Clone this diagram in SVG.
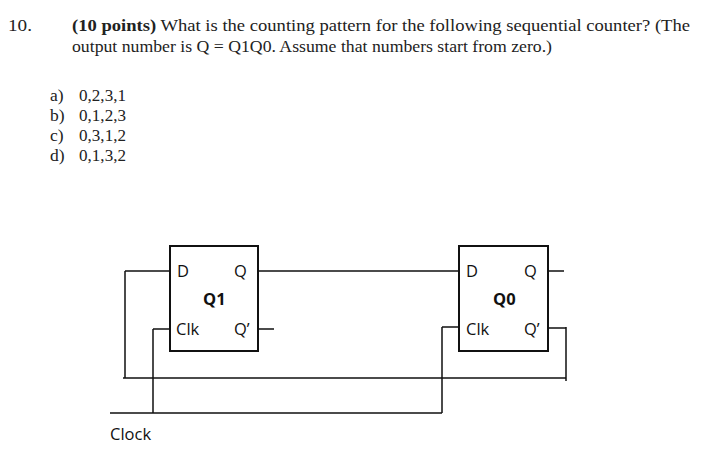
<svg xmlns="http://www.w3.org/2000/svg" width="715" height="460" viewBox="0 0 715 460">
<style>
.q{font-family:"Liberation Serif",serif;font-size:17.5px;fill:#222}
.s{font-family:"Open Sans","Liberation Sans",sans-serif;font-size:16.5px;fill:#111}
.w{stroke:#111;stroke-width:1.5;fill:none}
.b{fill:#fff;stroke:#111;stroke-width:2}
</style>
<rect width="715" height="460" fill="#fff"/>
<text class="q" x="8" y="31" textLength="24" lengthAdjust="spacingAndGlyphs">10.</text>
<text class="q" x="72" y="31" textLength="618" lengthAdjust="spacingAndGlyphs"><tspan font-weight="bold">(10 points)</tspan> What is the counting pattern for the following sequential counter? (The</text>
<text class="q" x="72" y="52" textLength="480" lengthAdjust="spacingAndGlyphs">output number is Q = Q1Q0. Assume that numbers start from zero.)</text>
<text class="q" x="50" y="101">a)</text><text class="q" x="79" y="101" textLength="47" lengthAdjust="spacingAndGlyphs">0,2,3,1</text>
<text class="q" x="50" y="121">b)</text><text class="q" x="79" y="121" textLength="47" lengthAdjust="spacingAndGlyphs">0,1,2,3</text>
<text class="q" x="50" y="141">c)</text><text class="q" x="79" y="141" textLength="47" lengthAdjust="spacingAndGlyphs">0,3,1,2</text>
<text class="q" x="50" y="161">d)</text><text class="q" x="79" y="161" textLength="47" lengthAdjust="spacingAndGlyphs">0,1,3,2</text>
<g id="connectors">
<path class="w" d="M125 271H170M125 271V378M123 378H566M566 327V381M548 328H566M548 271H564M258 271H459M258 329H274"/>
<path class="w" d="M153 329H170M153 329V413M110 413H442M442 327V413M442 327H459"/>
</g>
<g id="ffQ1">
<rect class="b" x="170" y="246" width="88" height="105"/>
<text class="s" x="177" y="277">D</text><text class="s" x="234" y="277">Q</text>
<text class="s" x="203" y="305" font-weight="bold">Q1</text>
<text class="s" x="176" y="335">Clk</text><text class="s" x="234" y="335">Q’</text>
</g>
<g id="ffQ0">
<rect class="b" x="459" y="246" width="89" height="105"/>
<text class="s" x="466" y="277">D</text><text class="s" x="524" y="277">Q</text>
<text class="s" x="493" y="305" font-weight="bold">Q0</text>
<text class="s" x="466" y="335">Clk</text><text class="s" x="524" y="335">Q’</text>
</g>
<text class="s" x="110" y="440" font-size="19">Clock</text>
</svg>
